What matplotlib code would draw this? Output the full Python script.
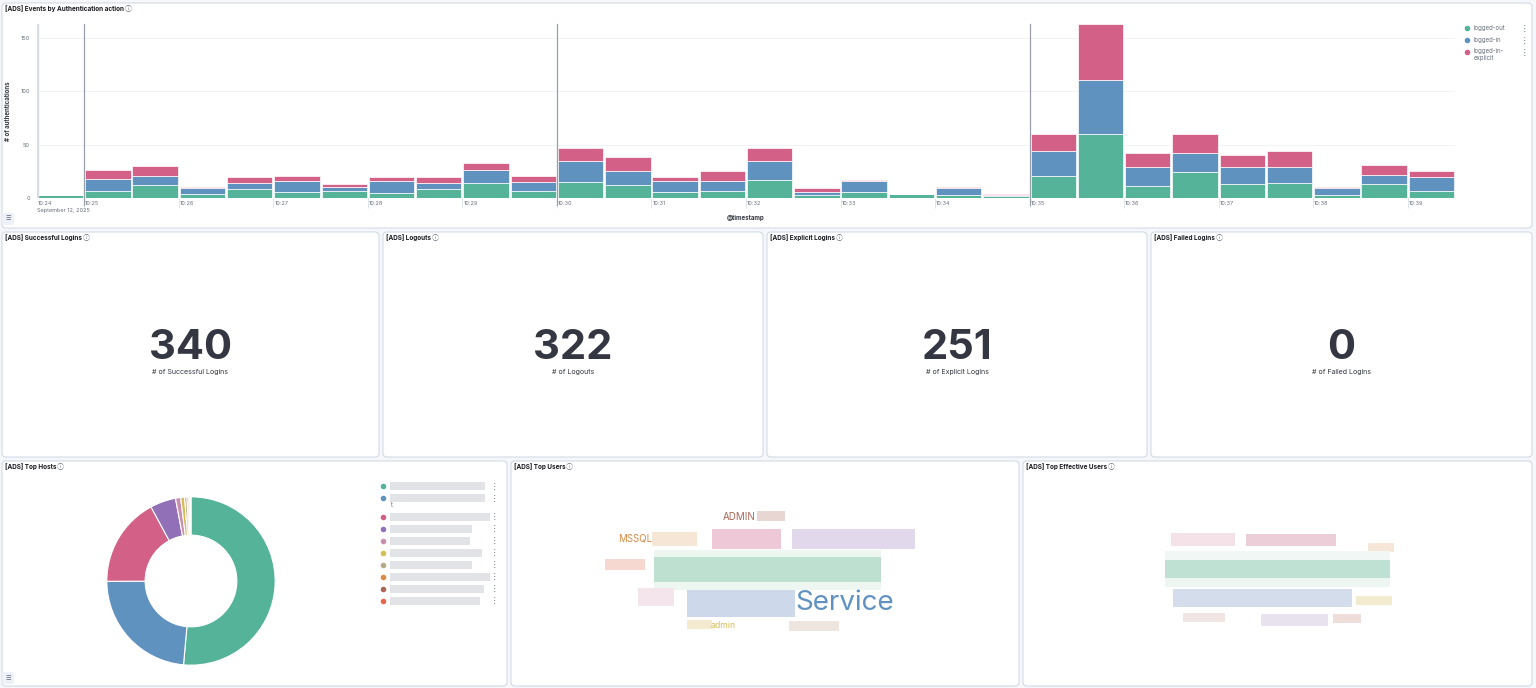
import matplotlib.pyplot as plt
import matplotlib.dates as mdates
from matplotlib.patches import Rectangle, FancyBboxPatch
from matplotlib.transforms import blended_transform_factory
import numpy as np
import pandas as pd

plt.rcParams['font.family'] = ['Inter', 'DejaVu Sans']

# ---------------- data ----------------
bucket_start = ["10:24:30", "10:25:00", "10:25:30", "10:26:00", "10:26:30", "10:27:00",
                "10:27:30", "10:28:00", "10:28:30", "10:29:00", "10:29:30", "10:30:00",
                "10:30:30", "10:31:00", "10:31:30", "10:32:00", "10:32:30", "10:33:00",
                "10:33:30", "10:34:00", "10:34:30", "10:35:00", "10:35:30", "10:36:00",
                "10:36:30", "10:37:00", "10:37:30", "10:38:00", "10:38:30", "10:39:00"]
logged_out = [3, 7, 12, 4, 8, 6, 7, 5, 8, 14, 7, 15, 12, 6, 7, 17, 3, 6, 4, 3,
              2, 21, 60, 11, 24, 13, 14, 3, 13, 7]
logged_in = [0, 11, 9, 5, 6, 10, 3, 11, 6, 12, 8, 20, 13, 10, 9, 18, 3, 10, 0, 6,
             1, 23, 51, 18, 18, 16, 15, 6, 9, 13]
logged_in_explicit = [0, 8, 9, 1, 6, 5, 3, 4, 6, 7, 6, 12, 13, 4, 9, 12, 3, 1, 0, 1,
                      1, 16, 52, 13, 18, 11, 15, 1, 9, 5]
series_names = ["logged-out", "logged-in", "logged-in-\nexplicit"]
minute_ticks = ["10:25", "10:26", "10:27", "10:28", "10:29", "10:30", "10:31", "10:32",
                "10:33", "10:34", "10:35", "10:36", "10:37", "10:38", "10:39"]
marker_times = ["10:25", "10:30", "10:35"]
y_ticks = [0, 50, 100, 150]

metric_titles = ["[ADS] Successful Logins", "[ADS] Logouts", "[ADS] Explicit Logins", "[ADS] Failed Logins"]
metric_values = [340, 322, 251, 0]
metric_labels = ["# of Successful Logins", "# of Logouts", "# of Explicit Logins", "# of Failed Logins"]

host_counts = [470, 215, 157, 45, 9, 7, 4, 3, 2, 2]

# ---------------- style ----------------
W, H = 1536, 688
palette = ['#54B399', '#6092C0', '#D36086', '#9170B8', '#CA8EAE',
           '#D6BF57', '#B9A888', '#DA8B45', '#AA6556', '#E7664C']
TXT = '#343741'
SUB = '#69707d'
BORDER = '#d3dae6'
ICON_FONT = ['Noto Sans CJK JP', 'Noto Sans CJK SC', 'DejaVu Sans']


def fbox(x0, y0, x1, y1):
    return [x0 / W, 1 - y1 / H, (x1 - x0) / W, (y1 - y0) / H]


fig = plt.figure(figsize=(W / 100, H / 100), dpi=100)
fig.patch.set_facecolor('#f5f7fa')
bg = fig.add_axes([0, 0, 1, 1])
bg.set_xlim(0, W)
bg.set_ylim(H, 0)
bg.axis('off')
renderer = fig.canvas.get_renderer()


def panel(x0, y0, x1, y1, title):
    bg.add_patch(FancyBboxPatch((x0, y0), x1 - x0, y1 - y0,
                                boxstyle='round,pad=0,rounding_size=4',
                                facecolor='white', edgecolor=BORDER, lw=0.8))
    t = bg.text(x0 + 3, y0 + 6, title, fontsize=4.6, weight='bold',
                color='#1a1c21', ha='left', va='center')
    # info icon right after the title
    ext = t.get_window_extent(renderer)
    bg.text(x0 + 3 + ext.width + 0.5, y0 + 6, '\u24d8', family=ICON_FONT,
            fontsize=5, color='#69707d', ha='left', va='center')


def block(x0, y0, x1, y1, color, alpha=1.0):
    bg.add_patch(Rectangle((x0, y0), x1 - x0, y1 - y0, facecolor=color,
                           edgecolor='none', alpha=alpha))


def list_button(x, y):
    bg.add_patch(FancyBboxPatch((x - 6, y - 6), 12, 12, boxstyle='round,pad=0,rounding_size=2',
                                facecolor='#eef1f7', edgecolor='none'))
    bg.text(x, y, '\u2630', family='DejaVu Sans', fontsize=4.5, color='#5a6270',
            ha='center', va='center')


# ---------------- top panel: stacked bars ----------------
panel(2, 3, 1532, 228, '[ADS] Events by Authentication action')
list_button(8, 219)

t = pd.to_datetime(["2025-09-12 " + s for s in bucket_start])
x = mdates.date2num(t)
half = 30 / 86400

ax = fig.add_axes(fbox(37, 24, 1455, 198))
ax.set_facecolor('none')
bottom = np.zeros(len(x))
for vals, col in zip([logged_out, logged_in, logged_in_explicit], palette[:3]):
    ax.bar(x + 0.02 * half, vals, width=0.96 * half, bottom=bottom, align='edge',
           color=col, edgecolor='white', linewidth=0.5, zorder=3)
    bottom = bottom + np.array(vals)

ax.set_xlim(x[0], x[-1] + half)
ax.set_ylim(0, 163)
for s in ax.spines.values():
    s.set_visible(False)
ax.set_yticks(y_ticks)
ax.set_yticklabels([str(v) for v in y_ticks])
ax.tick_params(axis='y', length=0, labelsize=4, labelcolor=SUB, pad=5)
ax.yaxis.grid(True, color='#eef0f4', lw=0.6)
ax.set_axisbelow(True)

tick_x = mdates.date2num(pd.to_datetime(["2025-09-12 " + m for m in minute_ticks]))
ax.set_xticks(tick_x)
ax.set_xticklabels([])
ax.tick_params(axis='x', length=7, width=0.5, color=BORDER, direction='out')
trans = blended_transform_factory(ax.transData, ax.transAxes)
for tx, lab in zip(tick_x, minute_ticks):
    ax.text(tx + 0.6 / 86400, -0.015, lab, transform=trans, fontsize=4, color=SUB,
            ha='left', va='top')
ax.text(x[0] + 0.3 / 86400, -0.015, '10:24', transform=trans,
        fontsize=4, color=SUB, ha='left', va='top')
ax.text(x[0] + 0.3 / 86400, -0.055, 'September 12, 2025', transform=trans,
        fontsize=4, color=SUB, ha='left', va='top')

ax.axvline(x[0], color='#d9dde5', lw=2.5, zorder=4)
for m in mdates.date2num(pd.to_datetime(["2025-09-12 " + m for m in marker_times])):
    ax.axvline(m, ymin=-0.04, ymax=1.0, color='#9aa0aa', lw=0.9, zorder=4, clip_on=False)

bg.text(8, 111, '# of authentications', rotation=90, fontsize=4.4, weight='bold',
        color=TXT, ha='center', va='center')
bg.text(746, 218, '@timestamp', fontsize=4.4, weight='bold', color=TXT,
        ha='center', va='center')

# legend
for i, (name, col) in enumerate(zip(series_names, palette[:3])):
    yy = 28 + 12 * i
    bg.scatter([1467], [yy], s=9, color=col, zorder=5)
    if '\n' in name:
        bg.text(1474, yy - 3.5, name, fontsize=4.4, color=SUB, ha='left', va='top',
                linespacing=1.15)
    else:
        bg.text(1474, yy, name, fontsize=4.4, color=SUB, ha='left', va='center')
    bg.text(1524, yy, '\u22ee', family='DejaVu Sans', fontsize=5.5, color='#5a6270',
            ha='center', va='center')

# ---------------- metric panels ----------------
metric_boxes = [(2, 379), (383, 763), (767, 1147), (1151, 1532)]
for (x0, x1), title, val, lab in zip(metric_boxes, metric_titles, metric_values, metric_labels):
    panel(x0, 232, x1, 457, title)
    cx = (x0 + x1) / 2
    bg.text(cx, 359, str(val), fontsize=30, weight='bold', color=TXT,
            ha='center', va='baseline')
    bg.text(cx, 372, lab, fontsize=5.1, color=TXT, ha='center', va='center')

# ---------------- top hosts donut ----------------
panel(2, 461, 507, 686, '[ADS] Top Hosts')
list_button(8, 678)
axp = fig.add_axes(fbox(106, 496, 276, 666))
axp.pie(host_counts, colors=palette, startangle=90, counterclock=False,
        wedgeprops=dict(width=0.455, edgecolor='white', linewidth=0.8))
axp.set_xlim(-1.01, 1.01)
axp.set_ylim(-1.01, 1.01)
axp.set_aspect('equal')

host_bar_px = [95, 95, 100, 82, 80, 92, 82, 100, 94, 90]
leg_y = [486, 498, 517, 529, 541, 553, 565, 577, 589, 601]
for col, yy, wbar in zip(palette, leg_y, host_bar_px):
    bg.scatter([383], [yy], s=9, color=col, zorder=5)
    block(390, yy - 4, 390 + wbar, yy + 4, '#e2e3e6')
    bg.text(494, yy, '\u22ee', family='DejaVu Sans', fontsize=5.5, color='#5a6270',
            ha='center', va='center')
bg.text(391, 505, 't', fontsize=4.4, color=SUB, ha='left', va='center')

# ---------------- top users word cloud ----------------
panel(511, 461, 1019, 686, '[ADS] Top Users')
users_blocks = [
    (757, 511, 785, 521, '#e8d6d2'), (652, 532, 697, 546, '#f6e6d6'),
    (712, 529, 781, 549, '#eec8d6'), (792, 529, 915, 549, '#e2d8ec'),
    (654, 550, 881, 557, '#eef6f2'), (654, 557, 881, 582, '#bde0d1'),
    (654, 582, 881, 590, '#eef6f2'), (605, 559, 645, 570, '#f7d8d1'),
    (638, 588, 674, 606, '#f4e5ec'), (687, 590, 795, 617, '#cdd9ea'),
    (687, 620, 712, 629, '#f3ead0'), (789, 621, 839, 631, '#eee6de'),
]
for b in users_blocks:
    block(*b)
bg.text(723, 517, 'ADMIN', fontsize=7, color='#AA6556', ha='left', va='center')
bg.text(618, 539, 'MSSQL', fontsize=7, color='#DA8B45', ha='left', va='center')
bg.text(795, 603, 'Service', fontsize=20, color='#6092C0', ha='left', va='center')
bg.text(711, 625, 'admin', fontsize=6.3, color='#D6BF57', ha='left', va='center')

# ---------------- top effective users word cloud ----------------
panel(1023, 461, 1532, 686, '[ADS] Top Effective Users')
eff_blocks = [
    (1171, 533, 1235, 546, '#f4e2e8'), (1246, 534, 1336, 546, '#ecced9'),
    (1368, 543, 1394, 552, '#f6e7d8'), (1165, 551, 1390, 560, '#f1f7f4'),
    (1165, 560, 1390, 578, '#bfe1d3'), (1165, 578, 1390, 587, '#eef6f2'),
    (1173, 589, 1352, 607, '#d3ddeb'), (1356, 596, 1392, 605, '#f3ebcf'),
    (1183, 613, 1225, 622, '#f0e5e2'), (1261, 614, 1328, 626, '#e8e2ef'),
    (1333, 614, 1361, 623, '#eeddd9'),
]
for b in eff_blocks:
    block(*b)

fig.savefig('out.png', dpi=100, facecolor=fig.get_facecolor())
